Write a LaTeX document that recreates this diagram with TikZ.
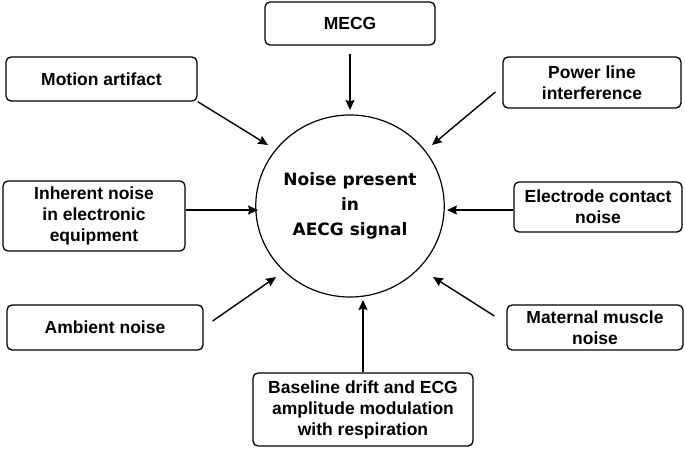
\documentclass[tikz,border=0pt]{standalone}
\usepackage{fontspec}
\setmainfont{Liberation Sans}
\newfontfamily\centerfont{DejaVu Sans}
\usetikzlibrary{arrows.meta,shapes.geometric}
\begin{document}
\begin{tikzpicture}[x=1pt,y=1pt,
  box/.style={draw, line width=1.3pt, rounded corners=5pt, inner sep=0pt, align=center,
    font=\bfseries\fontsize{17.5}{21}\selectfont},
  arr/.style={line width=1.4pt, -{Stealth[length=10pt,width=9pt,inset=1.5pt]}}]
\useasboundingbox (0,0) rectangle (685,448);
\node[box, minimum width=191pt, minimum height=44pt] (motion) at (101.5,369) {Motion artifact};
\node[box, minimum width=170pt, minimum height=43pt] (mecg) at (350,424.5) {MECG};
\node[box, minimum width=178pt, minimum height=51pt] (power) at (592,365.5) {Power line\\interference};
\node[box, minimum width=182pt, minimum height=70pt] (inh) at (94,232) {Inherent noise\\in electronic\\equipment};
\node[box, minimum width=168pt, minimum height=50pt] (elec) at (598,241) {Electrode contact\\noise};
\node[box, minimum width=196pt, minimum height=45pt] (amb) at (105,120.5) {Ambient noise};
\node[box, minimum width=220pt, minimum height=73pt] (base) at (363,38.5) {Baseline drift and ECG\\amplitude modulation\\with respiration};
\node[box, minimum width=176pt, minimum height=45pt] (mat) at (595,120.5) {Maternal muscle\\noise};
\node[ellipse, draw, line width=1.2pt, minimum width=176pt, minimum height=182pt, inner sep=0pt,
  align=center, font=\centerfont\bfseries\fontsize{17}{25}\selectfont] (c) at (350,242)
  {Noise present\\in\\AECG signal};
\coordinate (t1) at (268,303);
\coordinate (t2) at (350,338);
\coordinate (t3) at (432,303);
\coordinate (t4) at (258,238);
\coordinate (t5) at (447,238);
\coordinate (t6) at (276,171);
\coordinate (t7) at (433,171);
\coordinate (t8) at (363,148);
\draw[arr] (motion.south east) -- (t1);
\draw[arr, shorten <=8pt] (mecg.south) -- (t2);
\draw[arr] ([shift={(-7,-9.5)}]power.west) -- (t3);
\draw[arr] ([yshift=6]inh.east) -- (t4);
\draw[arr] ([yshift=-3]elec.west) -- (t5);
\draw[arr] ([shift={(9,6.5)}]amb.east) -- (t6);
\draw[arr] ([shift={(-12,11.5)}]mat.west) -- (t7);
\draw[arr] (base.north) -- (t8);
\end{tikzpicture}
\end{document}
